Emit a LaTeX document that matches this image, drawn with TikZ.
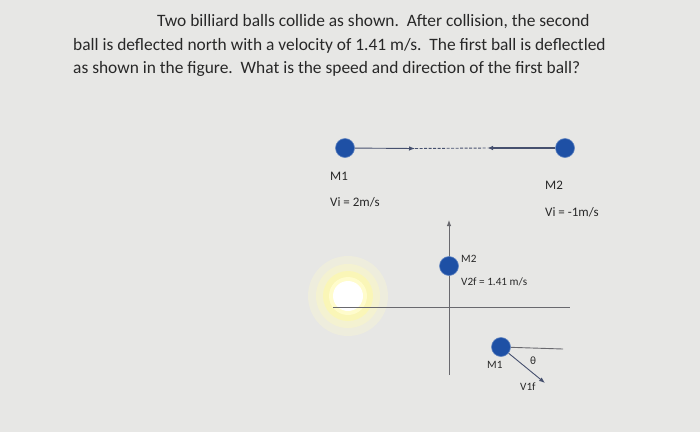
\documentclass[tikz,border=0pt]{standalone}
\usepackage{fontspec}
\setmainfont{Carlito}
\usetikzlibrary{arrows.meta}
\definecolor{bg}{RGB}{231,231,229}
\definecolor{ballc}{RGB}{30,80,165}
\definecolor{linec}{RGB}{70,80,110}
\definecolor{axisc}{RGB}{105,105,110}
\definecolor{txt}{RGB}{40,40,40}
\tikzset{
  ball/.style={circle,fill=ballc,draw=ballc!70!white,line width=0.6pt,minimum size=19pt,inner sep=0pt},
  lbl/.style={inner sep=0pt,anchor=west,font=\fontsize{13}{15}\selectfont,text=txt},
  slbl/.style={inner sep=0pt,anchor=west,font=\fontsize{11.2}{13}\selectfont,text=txt},
  ttl/.style={inner sep=0pt,anchor=west,font=\fontsize{17.4}{20}\selectfont,text=txt},
  vec/.style={linec,line width=0.9pt},
  tip/.style={-{Latex[length=6pt,width=4.5pt]}},
  axis/.style={axisc,line width=0.9pt}
}
\begin{document}
\begin{tikzpicture}[x=1pt,y=-1pt]
\fill[bg] (0,0) rectangle (700,432);
\useasboundingbox (0,0) rectangle (700,432);
% glare
\fill[orange!15!yellow!20!white, opacity=0.3] (348,296) circle (40);
\fill[orange!15!yellow!25!white, opacity=0.4] (348,296) circle (32);
\fill[yellow!35!white, opacity=0.6] (348,296) circle (25);
\fill[yellow!20!white] (348,296) circle (19);
\fill[white] (348,296) circle (15);
% title
\node[ttl] (t1) at (157,22) {Two billiard balls collide as shown.\ \ After collision, the second};
\node[ttl] (t2) at (73,46) {ball is deflected north with a velocity of 1.41 m/s.\ \ The first ball is deflectled};
\node[ttl] (t3) at (73,69) {as shown in the figure.\ \ What is the speed and direction of the first ball?};
% top balls
\node[ball] (b1) at (345,148) {};
\node[ball] (b2) at (565,148) {};
\coordinate (a1) at (415,148.5);
\coordinate (a2) at (487,148);
\draw[vec,tip] (b1) -- (a1);
\draw[vec,dashed,dash pattern=on 3pt off 1.5pt] (a1) -- (a2);
\draw[vec,tip,line width=1.2pt] (b2) -- (a2);
\node[lbl] (m1) at (330,176) {M1};
\node[lbl] (v1) at (330,202) {Vi = 2m/s};
\node[lbl] (m2) at (545,185) {M2};
\node[lbl] (v2) at (545,212) {Vi = -1m/s};
% axes
\coordinate (vtop) at (449,220);
\coordinate (vbot) at (449,375);
\coordinate (hl) at (333,307.5);
\coordinate (hr) at (570,307.5);
\draw[axis] (hl) -- (hr);
\draw[axis,tip] (vbot) -- (vtop);
% lower balls
\node[ball] (c2) at (449,266) {};
\node[slbl] (m2b) at (461,259) {M2};
\node[slbl] (v2b) at (461,282) {V2f = 1.41 m/s};
\node[ball] (c1) at (501,347) {};
\coordinate (href) at (563,349);
\coordinate (v1fend) at (545,383);
\draw[axis] (c1) -- (href);
\draw[vec,tip] (c1) -- (v1fend);
\node[slbl] (th) at (530,361) {θ};
\node[slbl] (m1b) at (487,365) {M1};
\node[slbl] (v1f) at (520,387) {V1f};
\end{tikzpicture}
\end{document}
